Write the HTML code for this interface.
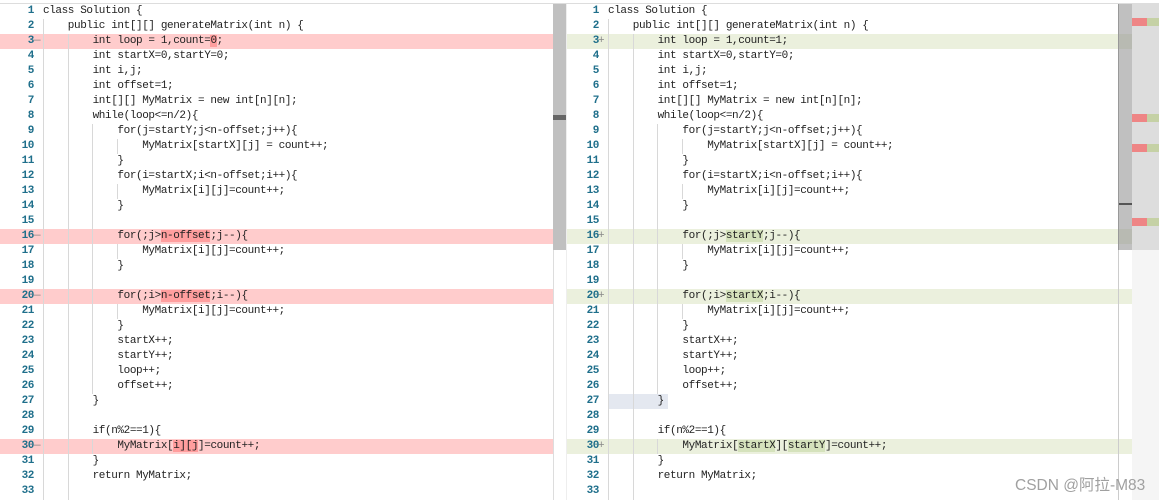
<!DOCTYPE html>
<html><head><meta charset="utf-8"><style>
body{margin:0;width:1159px;height:500px;background:#fff;position:relative;overflow:hidden;font-family:"Liberation Mono",monospace;}
.topb{position:absolute;left:0;top:3px;width:1159px;height:1px;background:#ddd}
.row{position:absolute;height:15px;line-height:15px;font-size:11px;letter-spacing:-0.4px;color:#222;white-space:pre}
.num{position:absolute;width:34px;text-align:right;color:#1f6f8b;font-size:11px;letter-spacing:-0.4px;line-height:15px;height:15px;font-weight:bold}
.del{background:#ffcccc}
.add{background:#ebf0dd}
.dd{background:#ff9e9e}
.ad{background:#d5e2bc}
.g{position:absolute;width:1px;background:#d8d8d8}
.mk{position:absolute;color:#888;font-size:11px;line-height:15px}
</style></head><body>
<div class="topb"></div>

<div class="row del" style="left:0;top:34px;width:553px"></div>
<div class="row del" style="left:0;top:229px;width:553px"></div>
<div class="row del" style="left:0;top:289px;width:553px"></div>
<div class="row del" style="left:0;top:439px;width:553px"></div>
<div class="row add" style="left:567px;top:34px;width:565px"></div>
<div class="row add" style="left:567px;top:229px;width:565px"></div>
<div class="row add" style="left:567px;top:289px;width:565px"></div>
<div class="row add" style="left:567px;top:439px;width:565px"></div>
<div class="row" style="left:608px;top:394px;width:60px;background:#e4e8f0"></div>

<div class="g" style="left:43px;top:19px;height:481px"></div>
<div class="g" style="left:68px;top:34px;height:466px"></div>
<div class="g" style="left:92px;top:124px;height:270px"></div>
<div class="g" style="left:92px;top:439px;height:15px"></div>
<div class="g" style="left:117px;top:139px;height:15px"></div>
<div class="g" style="left:117px;top:184px;height:15px"></div>
<div class="g" style="left:117px;top:244px;height:15px"></div>
<div class="g" style="left:117px;top:304px;height:15px"></div>
<div class="g" style="left:608px;top:19px;height:481px"></div>
<div class="g" style="left:633px;top:34px;height:466px"></div>
<div class="g" style="left:657px;top:124px;height:270px"></div>
<div class="g" style="left:657px;top:439px;height:15px"></div>
<div class="g" style="left:682px;top:139px;height:15px"></div>
<div class="g" style="left:682px;top:184px;height:15px"></div>
<div class="g" style="left:682px;top:244px;height:15px"></div>
<div class="g" style="left:682px;top:304px;height:15px"></div>

<div style="position:absolute;left:0;top:4px">
<div class="num" style="top:0">1</div><div class="num" style="top:15px">2</div><div class="num" style="top:30px">3</div><div class="num" style="top:45px">4</div><div class="num" style="top:60px">5</div><div class="num" style="top:75px">6</div><div class="num" style="top:90px">7</div><div class="num" style="top:105px">8</div><div class="num" style="top:120px">9</div><div class="num" style="top:135px">10</div><div class="num" style="top:150px">11</div><div class="num" style="top:165px">12</div><div class="num" style="top:180px">13</div><div class="num" style="top:195px">14</div><div class="num" style="top:210px">15</div><div class="num" style="top:225px">16</div><div class="num" style="top:240px">17</div><div class="num" style="top:255px">18</div><div class="num" style="top:270px">19</div><div class="num" style="top:285px">20</div><div class="num" style="top:300px">21</div><div class="num" style="top:315px">22</div><div class="num" style="top:330px">23</div><div class="num" style="top:345px">24</div><div class="num" style="top:360px">25</div><div class="num" style="top:375px">26</div><div class="num" style="top:390px">27</div><div class="num" style="top:405px">28</div><div class="num" style="top:420px">29</div><div class="num" style="top:435px">30</div><div class="num" style="top:450px">31</div><div class="num" style="top:465px">32</div><div class="num" style="top:480px">33</div>
<div class="mk" style="left:34px;top:30px">—</div><div class="mk" style="left:34px;top:225px">—</div><div class="mk" style="left:34px;top:285px">—</div><div class="mk" style="left:34px;top:435px">—</div>
<div class="row" style="left:43px;top:0">class Solution {
    public int[][] generateMatrix(int n) {
        int loop = 1,count=<span class="dd">0</span>;
        int startX=0,startY=0;
        int i,j;
        int offset=1;
        int[][] MyMatrix = new int[n][n];
        while(loop&lt;=n/2){
            for(j=startY;j&lt;n-offset;j++){
                MyMatrix[startX][j] = count++;
            }
            for(i=startX;i&lt;n-offset;i++){
                MyMatrix[i][j]=count++;
            }

            for(;j&gt;<span class="dd">n-offset</span>;j--){
                MyMatrix[i][j]=count++;
            }

            for(;i&gt;<span class="dd">n-offset</span>;i--){
                MyMatrix[i][j]=count++;
            }
            startX++;
            startY++;
            loop++;
            offset++;
        }

        if(n%2==1){
            MyMatrix[<span class="dd">i][j</span>]=count++;
        }
        return MyMatrix;
</div>
</div>

<div style="position:absolute;left:565px;top:4px">
<div class="num" style="top:0">1</div><div class="num" style="top:15px">2</div><div class="num" style="top:30px">3</div><div class="num" style="top:45px">4</div><div class="num" style="top:60px">5</div><div class="num" style="top:75px">6</div><div class="num" style="top:90px">7</div><div class="num" style="top:105px">8</div><div class="num" style="top:120px">9</div><div class="num" style="top:135px">10</div><div class="num" style="top:150px">11</div><div class="num" style="top:165px">12</div><div class="num" style="top:180px">13</div><div class="num" style="top:195px">14</div><div class="num" style="top:210px">15</div><div class="num" style="top:225px">16</div><div class="num" style="top:240px">17</div><div class="num" style="top:255px">18</div><div class="num" style="top:270px">19</div><div class="num" style="top:285px">20</div><div class="num" style="top:300px">21</div><div class="num" style="top:315px">22</div><div class="num" style="top:330px">23</div><div class="num" style="top:345px">24</div><div class="num" style="top:360px">25</div><div class="num" style="top:375px">26</div><div class="num" style="top:390px">27</div><div class="num" style="top:405px">28</div><div class="num" style="top:420px">29</div><div class="num" style="top:435px">30</div><div class="num" style="top:450px">31</div><div class="num" style="top:465px">32</div><div class="num" style="top:480px">33</div>
<div class="mk" style="left:33px;top:30px">+</div><div class="mk" style="left:33px;top:225px">+</div><div class="mk" style="left:33px;top:285px">+</div><div class="mk" style="left:33px;top:435px">+</div>
<div class="row" style="left:43px;top:0">class Solution {
    public int[][] generateMatrix(int n) {
        int loop = 1,count=1;
        int startX=0,startY=0;
        int i,j;
        int offset=1;
        int[][] MyMatrix = new int[n][n];
        while(loop&lt;=n/2){
            for(j=startY;j&lt;n-offset;j++){
                MyMatrix[startX][j] = count++;
            }
            for(i=startX;i&lt;n-offset;i++){
                MyMatrix[i][j]=count++;
            }

            for(;j&gt;<span class="ad">startY</span>;j--){
                MyMatrix[i][j]=count++;
            }

            for(;i&gt;<span class="ad">startX</span>;i--){
                MyMatrix[i][j]=count++;
            }
            startX++;
            startY++;
            loop++;
            offset++;
        }

        if(n%2==1){
            MyMatrix[<span class="ad">startX</span>][<span class="ad">startY</span>]=count++;
        }
        return MyMatrix;
</div>
</div>

<div style="position:absolute;left:553px;top:4px;width:13px;height:246px;background:rgba(150,150,150,0.6)"></div>
<div style="position:absolute;left:553px;top:115px;width:13px;height:5px;background:#666"></div>
<div style="position:absolute;left:553px;top:250px;width:1px;height:250px;background:#ddd"></div>
<div style="position:absolute;left:566px;top:4px;width:1px;height:496px;background:#eee"></div>
<div style="position:absolute;left:1118px;top:4px;width:14px;height:246px;background:rgba(150,150,150,0.6)"></div>
<div style="position:absolute;left:1118px;top:4px;width:1px;height:246px;background:#999"></div>
<div style="position:absolute;left:1119px;top:203px;width:13px;height:2px;background:#555"></div>
<div style="position:absolute;left:1118px;top:250px;width:1px;height:250px;background:#ccc"></div>
<div style="position:absolute;left:1132px;top:4px;width:27px;height:246px;background:#ddd"></div>
<div style="position:absolute;left:1132px;top:250px;width:27px;height:250px;background:#f5f5f5"></div>
<div style="position:absolute;left:1132px;top:18px;width:15px;height:8px;background:#ee8585"></div><div style="position:absolute;left:1147px;top:18px;width:12px;height:8px;background:#c5d1a5"></div>
<div style="position:absolute;left:1132px;top:114px;width:15px;height:8px;background:#ee8585"></div><div style="position:absolute;left:1147px;top:114px;width:12px;height:8px;background:#c5d1a5"></div>
<div style="position:absolute;left:1132px;top:144px;width:15px;height:8px;background:#ee8585"></div><div style="position:absolute;left:1147px;top:144px;width:12px;height:8px;background:#c5d1a5"></div>
<div style="position:absolute;left:1132px;top:218px;width:15px;height:8px;background:#ee8585"></div><div style="position:absolute;left:1147px;top:218px;width:12px;height:8px;background:#c5d1a5"></div>

<div style="position:absolute;left:1015px;top:473px;font-family:'Liberation Sans','Noto Sans CJK SC',sans-serif;font-size:15.5px;color:#a0a0a0;white-space:nowrap">CSDN @阿拉-M83</div>
</body></html>
